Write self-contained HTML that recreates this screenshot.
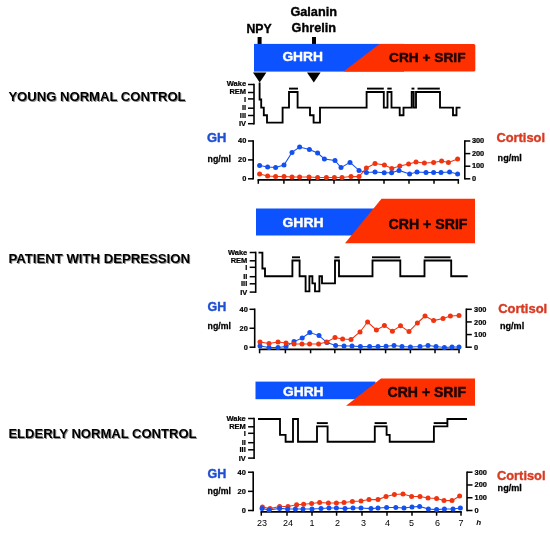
<!DOCTYPE html>
<html lang="en">
<head>
<meta charset="utf-8">
<title>GHRH / CRH sleep-endocrine profiles</title>
<style>
html,body{margin:0;padding:0;background:#fff;}
body{width:550px;height:534px;overflow:hidden;}
svg{display:block;font-family:'Liberation Sans', Arial, Helvetica, sans-serif;}
</style>
</head>
<body>
<svg width="550" height="534" viewBox="0 0 550 534" font-family="'Liberation Sans', Arial, Helvetica, sans-serif">
<defs>
<filter id="sh" x="-5%" y="-50%" width="110%" height="200%">
<feGaussianBlur in="SourceAlpha" stdDeviation="0.7" result="b"/>
<feOffset in="b" dx="0.6" dy="0.8" result="o"/>
<feComponentTransfer in="o" result="s"><feFuncA type="linear" slope="0.45"/></feComponentTransfer>
<feMerge><feMergeNode in="s"/><feMergeNode in="SourceGraphic"/></feMerge>
</filter>
</defs>
<rect width="550" height="534" fill="#fff"/>
<g filter="url(#sh)">
<text x="8.4" y="101" font-size="12.7" font-weight="bold" fill="#000" text-anchor="start" textLength="177.2" lengthAdjust="spacingAndGlyphs">YOUNG NORMAL CONTROL</text>
<text x="8.4" y="263.2" font-size="12.7" font-weight="bold" fill="#000" text-anchor="start" textLength="181.6" lengthAdjust="spacingAndGlyphs">PATIENT WITH DEPRESSION</text>
<text x="8.4" y="437.7" font-size="12.7" font-weight="bold" fill="#000" text-anchor="start" textLength="188.1" lengthAdjust="spacingAndGlyphs">ELDERLY NORMAL CONTROL</text>
</g>
<text x="259" y="33" font-size="12" font-weight="bold" fill="#000" text-anchor="middle" textLength="25.2" lengthAdjust="spacingAndGlyphs" stroke="#000" stroke-width="0.36" stroke-linejoin="round">NPY</text>
<text x="313.7" y="16.4" font-size="12" font-weight="bold" fill="#000" text-anchor="middle" textLength="46.6" lengthAdjust="spacingAndGlyphs" stroke="#000" stroke-width="0.36" stroke-linejoin="round">Galanin</text>
<text x="313.8" y="32.2" font-size="12" font-weight="bold" fill="#000" text-anchor="middle" textLength="44.4" lengthAdjust="spacingAndGlyphs" stroke="#000" stroke-width="0.36" stroke-linejoin="round">Ghrelin</text>
<rect x="257.6" y="37" width="4" height="8" fill="#000"/>
<rect x="312" y="37" width="4" height="8" fill="#000"/>
<rect x="254" y="43.9" width="150" height="27.7" fill="#0c52ff"/>
<path d="M379.4,43.9H473.7a1.6,1.6 0 0 1 1.6,1.6V70a1.6,1.6 0 0 1 -1.6,1.6H343.6Z" fill="#ff3000"/>
<text x="302.7" y="61.2" font-size="13" font-weight="bold" fill="#fff" text-anchor="middle" textLength="40.6" lengthAdjust="spacingAndGlyphs" stroke="#fff" stroke-width="0.39" stroke-linejoin="round">GHRH</text>
<text x="427.3" y="62.3" font-size="13" font-weight="bold" fill="#1a0000" text-anchor="middle" textLength="76.5" lengthAdjust="spacingAndGlyphs" stroke="#1a0000" stroke-width="0.39" stroke-linejoin="round">CRH + SRIF</text>
<path d="M253,72.5H266.4L259.7,82.4Z" fill="#000"/>
<path d="M307,72.5H320.6L313.8,82.4Z" fill="#000"/>
<path d="M254.0,83.7V124.5" stroke="#000" stroke-width="1.6" fill="none"/>
<path d="M248.0,84.50H254.0" stroke="#000" stroke-width="1.5" fill="none"/>
<text x="246.1" y="86.3" font-size="7.5" font-weight="bold" fill="#000" text-anchor="end" stroke="#000" stroke-width="0.22" stroke-linejoin="round">Wake</text>
<path d="M248.0,92.50H254.0" stroke="#000" stroke-width="1.5" fill="none"/>
<text x="246.1" y="94.4" font-size="7.5" font-weight="bold" fill="#000" text-anchor="end" stroke="#000" stroke-width="0.22" stroke-linejoin="round">REM</text>
<path d="M248.0,98.90H254.0" stroke="#000" stroke-width="1.5" fill="none"/>
<text x="246.1" y="101.9" font-size="7.5" font-weight="bold" fill="#000" text-anchor="end" stroke="#000" stroke-width="0.22" stroke-linejoin="round">I</text>
<path d="M248.0,108.20H254.0" stroke="#000" stroke-width="1.5" fill="none"/>
<text x="246.1" y="110.1" font-size="7.5" font-weight="bold" fill="#000" text-anchor="end" stroke="#000" stroke-width="0.22" stroke-linejoin="round">II</text>
<path d="M248.0,115.50H254.0" stroke="#000" stroke-width="1.5" fill="none"/>
<text x="246.1" y="117.9" font-size="7.5" font-weight="bold" fill="#000" text-anchor="end" stroke="#000" stroke-width="0.22" stroke-linejoin="round">III</text>
<path d="M248.0,123.70H254.0" stroke="#000" stroke-width="1.5" fill="none"/>
<text x="246.1" y="126.2" font-size="7.5" font-weight="bold" fill="#000" text-anchor="end" stroke="#000" stroke-width="0.22" stroke-linejoin="round">IV</text>
<path d="M259.6,82.5L259.6,82.5L259.6,99.5L261.2,99.5L261.2,107.6L263.8,107.6L263.8,115.2L267,115.2L267,122.6L282.6,122.6L282.6,107.6L289,107.6L289,92L297.6,92L297.6,107.6L310,107.6L310,115.2L313.6,115.2L313.6,122.6L320,122.6L320,107.6L366.6,107.6L366.6,92L383.8,92L383.8,107.6L387.5,107.6L387.5,92L391.5,92L391.5,107.6L399.7,107.6L399.7,115.2L403.5,115.2L403.5,107.6L411.7,107.6L411.7,92L413.7,92L413.7,107.6L416,107.6L416,92L440,92L440,107.6L453,107.6L453,115.2L456.5,115.2L456.5,107.6L460.5,107.6" fill="none" stroke="#000" stroke-width="1.85" stroke-linejoin="miter" stroke-linecap="butt"/>
<path d="M289,88.6H298" stroke="#000" stroke-width="1.9" fill="none"/>
<path d="M367,88.6H383.8" stroke="#000" stroke-width="1.9" fill="none"/>
<path d="M387.3,88.6H391.7" stroke="#000" stroke-width="1.9" fill="none"/>
<path d="M411.5,88.6H414.4" stroke="#000" stroke-width="1.9" fill="none"/>
<path d="M417.5,88.6H439.8" stroke="#000" stroke-width="1.9" fill="none"/>
<path d="M253.2,140.2V179.60000000000002" stroke="#000" stroke-width="1.6" fill="none"/>
<path d="M248.0,141.00H253.2" stroke="#000" stroke-width="1.5" fill="none"/>
<text x="246.3" y="143.3" font-size="7.4" font-weight="bold" fill="#000" text-anchor="end" stroke="#000" stroke-width="0.22" stroke-linejoin="round">40</text>
<path d="M248.0,159.90H253.2" stroke="#000" stroke-width="1.5" fill="none"/>
<text x="246.3" y="162.2" font-size="7.4" font-weight="bold" fill="#000" text-anchor="end" stroke="#000" stroke-width="0.22" stroke-linejoin="round">20</text>
<path d="M248.0,178.80H253.2" stroke="#000" stroke-width="1.5" fill="none"/>
<text x="246.3" y="181.1" font-size="7.4" font-weight="bold" fill="#000" text-anchor="end" stroke="#000" stroke-width="0.22" stroke-linejoin="round">0</text>
<path d="M464.8,140.2V179.60000000000002" stroke="#000" stroke-width="1.6" fill="none"/>
<path d="M464.8,141.00H470.3" stroke="#000" stroke-width="1.5" fill="none"/>
<text x="471.9" y="142.9" font-size="7.4" font-weight="bold" fill="#000" text-anchor="start" stroke="#000" stroke-width="0.22" stroke-linejoin="round">300</text>
<path d="M464.8,153.60H470.3" stroke="#000" stroke-width="1.5" fill="none"/>
<text x="471.9" y="155.5" font-size="7.4" font-weight="bold" fill="#000" text-anchor="start" stroke="#000" stroke-width="0.22" stroke-linejoin="round">200</text>
<path d="M464.8,166.20H470.3" stroke="#000" stroke-width="1.5" fill="none"/>
<text x="471.9" y="168.1" font-size="7.4" font-weight="bold" fill="#000" text-anchor="start" stroke="#000" stroke-width="0.22" stroke-linejoin="round">100</text>
<path d="M464.8,178.80H470.3" stroke="#000" stroke-width="1.5" fill="none"/>
<text x="471.9" y="180.7" font-size="7.4" font-weight="bold" fill="#000" text-anchor="start" stroke="#000" stroke-width="0.22" stroke-linejoin="round">0</text>
<path d="M257.5,179.9H459.1" stroke="#000" stroke-width="1.8" fill="none"/>
<path d="M258.3,179.9V183.8" stroke="#000" stroke-width="1.5" fill="none"/>
<path d="M283.9,179.9V183.8" stroke="#000" stroke-width="1.5" fill="none"/>
<path d="M309.6,179.9V183.8" stroke="#000" stroke-width="1.5" fill="none"/>
<path d="M334,179.9V183.8" stroke="#000" stroke-width="1.5" fill="none"/>
<path d="M359,179.9V183.8" stroke="#000" stroke-width="1.5" fill="none"/>
<path d="M384,179.9V183.8" stroke="#000" stroke-width="1.5" fill="none"/>
<path d="M409,179.9V183.8" stroke="#000" stroke-width="1.5" fill="none"/>
<path d="M434,179.9V183.8" stroke="#000" stroke-width="1.5" fill="none"/>
<path d="M458.3,179.9V183.8" stroke="#000" stroke-width="1.5" fill="none"/>
<path d="M259.6,174L267.6,176L275.6,176.4L284,176.4L292,177L299.6,177L309,177L317.6,177.4L326.4,177.4L334.4,177.4L342,177.4L351,176.6L359,176.6L366.4,168L375,163.6L384.4,165L391.8,168.4L399.8,166L408.6,164L416,162L424.4,163L433.6,162.6L441.6,161L448.4,162.4L457.6,159" fill="none" stroke="#f03410" stroke-width="1.05"/>
<circle cx="259.6" cy="174" r="2.5" fill="#f03410"/>
<circle cx="267.6" cy="176" r="2.5" fill="#f03410"/>
<circle cx="275.6" cy="176.4" r="2.5" fill="#f03410"/>
<circle cx="284" cy="176.4" r="2.5" fill="#f03410"/>
<circle cx="292" cy="177" r="2.5" fill="#f03410"/>
<circle cx="299.6" cy="177" r="2.5" fill="#f03410"/>
<circle cx="309" cy="177" r="2.5" fill="#f03410"/>
<circle cx="317.6" cy="177.4" r="2.5" fill="#f03410"/>
<circle cx="326.4" cy="177.4" r="2.5" fill="#f03410"/>
<circle cx="334.4" cy="177.4" r="2.5" fill="#f03410"/>
<circle cx="342" cy="177.4" r="2.5" fill="#f03410"/>
<circle cx="351" cy="176.6" r="2.5" fill="#f03410"/>
<circle cx="359" cy="176.6" r="2.5" fill="#f03410"/>
<circle cx="366.4" cy="168" r="2.5" fill="#f03410"/>
<circle cx="375" cy="163.6" r="2.5" fill="#f03410"/>
<circle cx="384.4" cy="165" r="2.5" fill="#f03410"/>
<circle cx="391.8" cy="168.4" r="2.5" fill="#f03410"/>
<circle cx="399.8" cy="166" r="2.5" fill="#f03410"/>
<circle cx="408.6" cy="164" r="2.5" fill="#f03410"/>
<circle cx="416" cy="162" r="2.5" fill="#f03410"/>
<circle cx="424.4" cy="163" r="2.5" fill="#f03410"/>
<circle cx="433.6" cy="162.6" r="2.5" fill="#f03410"/>
<circle cx="441.6" cy="161" r="2.5" fill="#f03410"/>
<circle cx="448.4" cy="162.4" r="2.5" fill="#f03410"/>
<circle cx="457.6" cy="159" r="2.5" fill="#f03410"/>
<path d="M259.6,165.6L267.6,167L275.6,167.4L284,165L292,152.4L299.6,147L309.4,149.6L317.6,153L324.4,159L335,160.4L341,167.6L350,162.4L359,170.4L366.4,172.4L375,172L384.2,172.8L391.6,172.8L399,170.4L409.6,174L417,172L426,172.4L433.6,172.4L441,172.4L449.6,172L457.6,174" fill="none" stroke="#1250f0" stroke-width="1.05"/>
<circle cx="259.6" cy="165.6" r="2.5" fill="#1250f0"/>
<circle cx="267.6" cy="167" r="2.5" fill="#1250f0"/>
<circle cx="275.6" cy="167.4" r="2.5" fill="#1250f0"/>
<circle cx="284" cy="165" r="2.5" fill="#1250f0"/>
<circle cx="292" cy="152.4" r="2.5" fill="#1250f0"/>
<circle cx="299.6" cy="147" r="2.5" fill="#1250f0"/>
<circle cx="309.4" cy="149.6" r="2.5" fill="#1250f0"/>
<circle cx="317.6" cy="153" r="2.5" fill="#1250f0"/>
<circle cx="324.4" cy="159" r="2.5" fill="#1250f0"/>
<circle cx="335" cy="160.4" r="2.5" fill="#1250f0"/>
<circle cx="341" cy="167.6" r="2.5" fill="#1250f0"/>
<circle cx="350" cy="162.4" r="2.5" fill="#1250f0"/>
<circle cx="359" cy="170.4" r="2.5" fill="#1250f0"/>
<circle cx="366.4" cy="172.4" r="2.5" fill="#1250f0"/>
<circle cx="375" cy="172" r="2.5" fill="#1250f0"/>
<circle cx="384.2" cy="172.8" r="2.5" fill="#1250f0"/>
<circle cx="391.6" cy="172.8" r="2.5" fill="#1250f0"/>
<circle cx="399" cy="170.4" r="2.5" fill="#1250f0"/>
<circle cx="409.6" cy="174" r="2.5" fill="#1250f0"/>
<circle cx="417" cy="172" r="2.5" fill="#1250f0"/>
<circle cx="426" cy="172.4" r="2.5" fill="#1250f0"/>
<circle cx="433.6" cy="172.4" r="2.5" fill="#1250f0"/>
<circle cx="441" cy="172.4" r="2.5" fill="#1250f0"/>
<circle cx="449.6" cy="172" r="2.5" fill="#1250f0"/>
<circle cx="457.6" cy="174" r="2.5" fill="#1250f0"/>
<text x="207" y="142.4" font-size="13" font-weight="bold" fill="#1f4fd0" text-anchor="start" textLength="19.4" lengthAdjust="spacingAndGlyphs" stroke="#1f4fd0" stroke-width="0.39" stroke-linejoin="round">GH</text>
<text x="207.6" y="162.4" font-size="9" font-weight="bold" fill="#000" text-anchor="start" textLength="23.4" lengthAdjust="spacingAndGlyphs" stroke="#000" stroke-width="0.27" stroke-linejoin="round">ng/ml</text>
<text x="496.4" y="142" font-size="13" font-weight="bold" fill="#d83a22" text-anchor="start" textLength="48.6" lengthAdjust="spacingAndGlyphs" stroke="#d83a22" stroke-width="0.39" stroke-linejoin="round">Cortisol</text>
<text x="497.6" y="160.5" font-size="9" font-weight="bold" fill="#000" text-anchor="start" textLength="24.2" lengthAdjust="spacingAndGlyphs" stroke="#000" stroke-width="0.27" stroke-linejoin="round">ng/ml</text>
<rect x="256" y="208.5" width="120" height="27" fill="#0c52ff"/>
<path d="M381.5,198.7H475V243.2H345Z" fill="#ff3000"/>
<text x="303" y="227.3" font-size="13.5" font-weight="bold" fill="#fff" text-anchor="middle" textLength="41" lengthAdjust="spacingAndGlyphs" stroke="#fff" stroke-width="0.40" stroke-linejoin="round">GHRH</text>
<text x="428" y="228.7" font-size="14" font-weight="bold" fill="#1a0000" text-anchor="middle" textLength="79" lengthAdjust="spacingAndGlyphs" stroke="#1a0000" stroke-width="0.42" stroke-linejoin="round">CRH + SRIF</text>
<path d="M255.7,251.7V292.90000000000003" stroke="#000" stroke-width="1.6" fill="none"/>
<path d="M249.7,252.50H255.7" stroke="#000" stroke-width="1.5" fill="none"/>
<text x="247.3" y="254.8" font-size="7.5" font-weight="bold" fill="#000" text-anchor="end" stroke="#000" stroke-width="0.22" stroke-linejoin="round">Wake</text>
<path d="M249.7,260.80H255.7" stroke="#000" stroke-width="1.5" fill="none"/>
<text x="247.3" y="263.3" font-size="7.5" font-weight="bold" fill="#000" text-anchor="end" stroke="#000" stroke-width="0.22" stroke-linejoin="round">REM</text>
<path d="M249.7,267.30H255.7" stroke="#000" stroke-width="1.5" fill="none"/>
<text x="247.3" y="269.7" font-size="7.5" font-weight="bold" fill="#000" text-anchor="end" stroke="#000" stroke-width="0.22" stroke-linejoin="round">I</text>
<path d="M249.7,276.70H255.7" stroke="#000" stroke-width="1.5" fill="none"/>
<text x="247.3" y="278.7" font-size="7.5" font-weight="bold" fill="#000" text-anchor="end" stroke="#000" stroke-width="0.22" stroke-linejoin="round">II</text>
<path d="M249.7,283.80H255.7" stroke="#000" stroke-width="1.5" fill="none"/>
<text x="247.3" y="286.3" font-size="7.5" font-weight="bold" fill="#000" text-anchor="end" stroke="#000" stroke-width="0.22" stroke-linejoin="round">III</text>
<path d="M249.7,292.10H255.7" stroke="#000" stroke-width="1.5" fill="none"/>
<text x="247.3" y="294.9" font-size="7.5" font-weight="bold" fill="#000" text-anchor="end" stroke="#000" stroke-width="0.22" stroke-linejoin="round">IV</text>
<path d="M258.5,252.6L262.4,252.6L262.4,268.5L265,268.5L265,276.2L292.4,276.2L292.4,260.5L299.6,260.5L299.6,276.2L305.6,276.2L305.6,291.4L309.4,291.4L309.4,276.2L312.4,276.2L312.4,283.3L315,283.3L315,291.4L319.4,291.4L319.4,276.2L322,276.2L322,283.3L335,283.3L335,260.5L339,260.5L339,276.2L372.5,276.2L372.5,260.5L400.3,260.5L400.3,276.2L424.5,276.2L424.5,260.5L451.2,260.5L451.2,276.2L467.7,276.2" fill="none" stroke="#000" stroke-width="1.85" stroke-linejoin="miter" stroke-linecap="butt"/>
<path d="M292,257.3H300" stroke="#000" stroke-width="1.9" fill="none"/>
<path d="M334.4,257.3H339.6" stroke="#000" stroke-width="1.9" fill="none"/>
<path d="M372,257.3H400.2" stroke="#000" stroke-width="1.9" fill="none"/>
<path d="M424.3,257.3H450.6" stroke="#000" stroke-width="1.9" fill="none"/>
<path d="M254.7,308.5V348.0" stroke="#000" stroke-width="1.6" fill="none"/>
<path d="M249.5,309.30H254.7" stroke="#000" stroke-width="1.5" fill="none"/>
<text x="247.8" y="311.8" font-size="7.4" font-weight="bold" fill="#000" text-anchor="end" stroke="#000" stroke-width="0.22" stroke-linejoin="round">40</text>
<path d="M249.5,328.25H254.7" stroke="#000" stroke-width="1.5" fill="none"/>
<text x="247.8" y="330.75" font-size="7.4" font-weight="bold" fill="#000" text-anchor="end" stroke="#000" stroke-width="0.22" stroke-linejoin="round">20</text>
<path d="M249.5,347.20H254.7" stroke="#000" stroke-width="1.5" fill="none"/>
<text x="247.8" y="349.7" font-size="7.4" font-weight="bold" fill="#000" text-anchor="end" stroke="#000" stroke-width="0.22" stroke-linejoin="round">0</text>
<path d="M466.3,308.5V348.0" stroke="#000" stroke-width="1.6" fill="none"/>
<path d="M466.3,309.30H471.8" stroke="#000" stroke-width="1.5" fill="none"/>
<text x="474.1" y="311.9" font-size="7.4" font-weight="bold" fill="#000" text-anchor="start" stroke="#000" stroke-width="0.22" stroke-linejoin="round">300</text>
<path d="M466.3,321.93H471.8" stroke="#000" stroke-width="1.5" fill="none"/>
<text x="474.1" y="324.53" font-size="7.4" font-weight="bold" fill="#000" text-anchor="start" stroke="#000" stroke-width="0.22" stroke-linejoin="round">200</text>
<path d="M466.3,334.57H471.8" stroke="#000" stroke-width="1.5" fill="none"/>
<text x="474.1" y="337.17" font-size="7.4" font-weight="bold" fill="#000" text-anchor="start" stroke="#000" stroke-width="0.22" stroke-linejoin="round">100</text>
<path d="M466.3,347.20H471.8" stroke="#000" stroke-width="1.5" fill="none"/>
<text x="474.1" y="349.8" font-size="7.4" font-weight="bold" fill="#000" text-anchor="start" stroke="#000" stroke-width="0.22" stroke-linejoin="round">0</text>
<path d="M258.8,349.4H459.8" stroke="#000" stroke-width="1.8" fill="none"/>
<path d="M259.6,349.4V353.29999999999995" stroke="#000" stroke-width="1.5" fill="none"/>
<path d="M285.4,349.4V353.29999999999995" stroke="#000" stroke-width="1.5" fill="none"/>
<path d="M310.6,349.4V353.29999999999995" stroke="#000" stroke-width="1.5" fill="none"/>
<path d="M334.8,349.4V353.29999999999995" stroke="#000" stroke-width="1.5" fill="none"/>
<path d="M360.4,349.4V353.29999999999995" stroke="#000" stroke-width="1.5" fill="none"/>
<path d="M385.6,349.4V353.29999999999995" stroke="#000" stroke-width="1.5" fill="none"/>
<path d="M410.4,349.4V353.29999999999995" stroke="#000" stroke-width="1.5" fill="none"/>
<path d="M435,349.4V353.29999999999995" stroke="#000" stroke-width="1.5" fill="none"/>
<path d="M459,349.4V353.29999999999995" stroke="#000" stroke-width="1.5" fill="none"/>
<path d="M260,346L269,347.4L278,347.4L286,346.6L294,341.6L302.2,338L309.8,332.6L319,335.6L327,342.6L335.6,345.4L344,346L352,346L360.4,346.6L369.6,346.6L378,346.6L386,346.3L394,345.6L402,346.6L410.4,347L420,346.6L428,345.6L436,346.6L444.4,347.4L452,347L459,347" fill="none" stroke="#1250f0" stroke-width="1.05"/>
<circle cx="260" cy="346" r="2.5" fill="#1250f0"/>
<circle cx="269" cy="347.4" r="2.5" fill="#1250f0"/>
<circle cx="278" cy="347.4" r="2.5" fill="#1250f0"/>
<circle cx="286" cy="346.6" r="2.5" fill="#1250f0"/>
<circle cx="294" cy="341.6" r="2.5" fill="#1250f0"/>
<circle cx="302.2" cy="338" r="2.5" fill="#1250f0"/>
<circle cx="309.8" cy="332.6" r="2.5" fill="#1250f0"/>
<circle cx="319" cy="335.6" r="2.5" fill="#1250f0"/>
<circle cx="327" cy="342.6" r="2.5" fill="#1250f0"/>
<circle cx="335.6" cy="345.4" r="2.5" fill="#1250f0"/>
<circle cx="344" cy="346" r="2.5" fill="#1250f0"/>
<circle cx="352" cy="346" r="2.5" fill="#1250f0"/>
<circle cx="360.4" cy="346.6" r="2.5" fill="#1250f0"/>
<circle cx="369.6" cy="346.6" r="2.5" fill="#1250f0"/>
<circle cx="378" cy="346.6" r="2.5" fill="#1250f0"/>
<circle cx="386" cy="346.3" r="2.5" fill="#1250f0"/>
<circle cx="394" cy="345.6" r="2.5" fill="#1250f0"/>
<circle cx="402" cy="346.6" r="2.5" fill="#1250f0"/>
<circle cx="410.4" cy="347" r="2.5" fill="#1250f0"/>
<circle cx="420" cy="346.6" r="2.5" fill="#1250f0"/>
<circle cx="428" cy="345.6" r="2.5" fill="#1250f0"/>
<circle cx="436" cy="346.6" r="2.5" fill="#1250f0"/>
<circle cx="444.4" cy="347.4" r="2.5" fill="#1250f0"/>
<circle cx="452" cy="347" r="2.5" fill="#1250f0"/>
<circle cx="459" cy="347" r="2.5" fill="#1250f0"/>
<path d="M260,342L269,343.4L278,342L286,343L294,344L302,344L309.6,344L318.6,344L326.6,342L335,337.6L342.6,339L351,339.4L360,332L367.6,322L376.4,330L384.4,325.6L392.4,331.2L400.5,325.8L409,331.6L417.4,323L425,316L433.6,320.6L443,318.6L450.4,316L459,315.4" fill="none" stroke="#f03410" stroke-width="1.05"/>
<circle cx="260" cy="342" r="2.5" fill="#f03410"/>
<circle cx="269" cy="343.4" r="2.5" fill="#f03410"/>
<circle cx="278" cy="342" r="2.5" fill="#f03410"/>
<circle cx="286" cy="343" r="2.5" fill="#f03410"/>
<circle cx="294" cy="344" r="2.5" fill="#f03410"/>
<circle cx="302" cy="344" r="2.5" fill="#f03410"/>
<circle cx="309.6" cy="344" r="2.5" fill="#f03410"/>
<circle cx="318.6" cy="344" r="2.5" fill="#f03410"/>
<circle cx="326.6" cy="342" r="2.5" fill="#f03410"/>
<circle cx="335" cy="337.6" r="2.5" fill="#f03410"/>
<circle cx="342.6" cy="339" r="2.5" fill="#f03410"/>
<circle cx="351" cy="339.4" r="2.5" fill="#f03410"/>
<circle cx="360" cy="332" r="2.5" fill="#f03410"/>
<circle cx="367.6" cy="322" r="2.5" fill="#f03410"/>
<circle cx="376.4" cy="330" r="2.5" fill="#f03410"/>
<circle cx="384.4" cy="325.6" r="2.5" fill="#f03410"/>
<circle cx="392.4" cy="331.2" r="2.5" fill="#f03410"/>
<circle cx="400.5" cy="325.8" r="2.5" fill="#f03410"/>
<circle cx="409" cy="331.6" r="2.5" fill="#f03410"/>
<circle cx="417.4" cy="323" r="2.5" fill="#f03410"/>
<circle cx="425" cy="316" r="2.5" fill="#f03410"/>
<circle cx="433.6" cy="320.6" r="2.5" fill="#f03410"/>
<circle cx="443" cy="318.6" r="2.5" fill="#f03410"/>
<circle cx="450.4" cy="316" r="2.5" fill="#f03410"/>
<circle cx="459" cy="315.4" r="2.5" fill="#f03410"/>
<text x="207.6" y="311.4" font-size="13" font-weight="bold" fill="#1f4fd0" text-anchor="start" textLength="18.8" lengthAdjust="spacingAndGlyphs" stroke="#1f4fd0" stroke-width="0.39" stroke-linejoin="round">GH</text>
<text x="207.6" y="329" font-size="9" font-weight="bold" fill="#000" text-anchor="start" textLength="23.4" lengthAdjust="spacingAndGlyphs" stroke="#000" stroke-width="0.27" stroke-linejoin="round">ng/ml</text>
<text x="498.2" y="313.4" font-size="13" font-weight="bold" fill="#d83a22" text-anchor="start" textLength="49" lengthAdjust="spacingAndGlyphs" stroke="#d83a22" stroke-width="0.39" stroke-linejoin="round">Cortisol</text>
<text x="500" y="329.2" font-size="9" font-weight="bold" fill="#000" text-anchor="start" textLength="24.2" lengthAdjust="spacingAndGlyphs" stroke="#000" stroke-width="0.27" stroke-linejoin="round">ng/ml</text>
<rect x="255.5" y="381.6" width="120" height="17.6" fill="#0c52ff"/>
<path d="M381,378.5H475V405.8H346Z" fill="#ff3000"/>
<text x="303.3" y="395.9" font-size="13.5" font-weight="bold" fill="#fff" text-anchor="middle" textLength="40.4" lengthAdjust="spacingAndGlyphs" stroke="#fff" stroke-width="0.40" stroke-linejoin="round">GHRH</text>
<text x="426.8" y="396.8" font-size="14" font-weight="bold" fill="#1a0000" text-anchor="middle" textLength="78.4" lengthAdjust="spacingAndGlyphs" stroke="#1a0000" stroke-width="0.42" stroke-linejoin="round">CRH + SRIF</text>
<path d="M254.1,417.7V458.90000000000003" stroke="#000" stroke-width="1.6" fill="none"/>
<path d="M248.1,418.50H254.1" stroke="#000" stroke-width="1.5" fill="none"/>
<text x="245.8" y="420.8" font-size="7.5" font-weight="bold" fill="#000" text-anchor="end" stroke="#000" stroke-width="0.22" stroke-linejoin="round">Wake</text>
<path d="M248.1,426.80H254.1" stroke="#000" stroke-width="1.5" fill="none"/>
<text x="245.8" y="429.3" font-size="7.5" font-weight="bold" fill="#000" text-anchor="end" stroke="#000" stroke-width="0.22" stroke-linejoin="round">REM</text>
<path d="M248.1,433.30H254.1" stroke="#000" stroke-width="1.5" fill="none"/>
<text x="245.8" y="435.7" font-size="7.5" font-weight="bold" fill="#000" text-anchor="end" stroke="#000" stroke-width="0.22" stroke-linejoin="round">I</text>
<path d="M248.1,442.70H254.1" stroke="#000" stroke-width="1.5" fill="none"/>
<text x="245.8" y="444.7" font-size="7.5" font-weight="bold" fill="#000" text-anchor="end" stroke="#000" stroke-width="0.22" stroke-linejoin="round">II</text>
<path d="M248.1,449.80H254.1" stroke="#000" stroke-width="1.5" fill="none"/>
<text x="245.8" y="452.3" font-size="7.5" font-weight="bold" fill="#000" text-anchor="end" stroke="#000" stroke-width="0.22" stroke-linejoin="round">III</text>
<path d="M248.1,458.10H254.1" stroke="#000" stroke-width="1.5" fill="none"/>
<text x="245.8" y="460.9" font-size="7.5" font-weight="bold" fill="#000" text-anchor="end" stroke="#000" stroke-width="0.22" stroke-linejoin="round">IV</text>
<path d="M258,419L280,419L280,434.9L285.6,434.9L285.6,441.7L293,441.7L293,419L298,419L298,441.7L317,441.7L317,426.3L327.6,426.3L327.6,441.7L374.8,441.7L374.8,426.3L386.6,426.3L386.6,434.9L389.7,434.9L389.7,441.7L433.9,441.7L433.9,426.3L447.4,426.3L447.4,419L467,419" fill="none" stroke="#000" stroke-width="1.85" stroke-linejoin="miter" stroke-linecap="butt"/>
<path d="M316.8,423.1H327.8" stroke="#000" stroke-width="1.9" fill="none"/>
<path d="M374.6,423.1H386.8" stroke="#000" stroke-width="1.9" fill="none"/>
<path d="M433.7,423.1H447.4" stroke="#000" stroke-width="1.9" fill="none"/>
<path d="M253.2,471.4V511.3" stroke="#000" stroke-width="1.6" fill="none"/>
<path d="M248.0,472.20H253.2" stroke="#000" stroke-width="1.5" fill="none"/>
<text x="245.8" y="474.8" font-size="7.4" font-weight="bold" fill="#000" text-anchor="end" stroke="#000" stroke-width="0.22" stroke-linejoin="round">40</text>
<path d="M248.0,491.35H253.2" stroke="#000" stroke-width="1.5" fill="none"/>
<text x="245.8" y="493.95" font-size="7.4" font-weight="bold" fill="#000" text-anchor="end" stroke="#000" stroke-width="0.22" stroke-linejoin="round">20</text>
<path d="M248.0,510.50H253.2" stroke="#000" stroke-width="1.5" fill="none"/>
<text x="245.8" y="513.1" font-size="7.4" font-weight="bold" fill="#000" text-anchor="end" stroke="#000" stroke-width="0.22" stroke-linejoin="round">0</text>
<path d="M467.0,471.4V511.3" stroke="#000" stroke-width="1.6" fill="none"/>
<path d="M467.0,472.20H472.5" stroke="#000" stroke-width="1.5" fill="none"/>
<text x="474.6" y="474.6" font-size="7.4" font-weight="bold" fill="#000" text-anchor="start" stroke="#000" stroke-width="0.22" stroke-linejoin="round">300</text>
<path d="M467.0,484.97H472.5" stroke="#000" stroke-width="1.5" fill="none"/>
<text x="474.6" y="487.37" font-size="7.4" font-weight="bold" fill="#000" text-anchor="start" stroke="#000" stroke-width="0.22" stroke-linejoin="round">200</text>
<path d="M467.0,497.73H472.5" stroke="#000" stroke-width="1.5" fill="none"/>
<text x="474.6" y="500.13" font-size="7.4" font-weight="bold" fill="#000" text-anchor="start" stroke="#000" stroke-width="0.22" stroke-linejoin="round">100</text>
<path d="M467.0,510.50H472.5" stroke="#000" stroke-width="1.5" fill="none"/>
<text x="474.6" y="512.9" font-size="7.4" font-weight="bold" fill="#000" text-anchor="start" stroke="#000" stroke-width="0.22" stroke-linejoin="round">0</text>
<path d="M260.5,511.8H461.8" stroke="#000" stroke-width="1.8" fill="none"/>
<path d="M261.3,511.8V515.7" stroke="#000" stroke-width="1.5" fill="none"/>
<path d="M287,511.8V515.7" stroke="#000" stroke-width="1.5" fill="none"/>
<path d="M312,511.8V515.7" stroke="#000" stroke-width="1.5" fill="none"/>
<path d="M336.6,511.8V515.7" stroke="#000" stroke-width="1.5" fill="none"/>
<path d="M362,511.8V515.7" stroke="#000" stroke-width="1.5" fill="none"/>
<path d="M387,511.8V515.7" stroke="#000" stroke-width="1.5" fill="none"/>
<path d="M412,511.8V515.7" stroke="#000" stroke-width="1.5" fill="none"/>
<path d="M436.6,511.8V515.7" stroke="#000" stroke-width="1.5" fill="none"/>
<path d="M461,511.8V515.7" stroke="#000" stroke-width="1.5" fill="none"/>
<path d="M262.4,507L270,508.6L279.6,506.4L288,506.4L296.6,504.8L303.6,504.2L311.6,503.6L319.6,502.6L328.4,503L336.4,503L344,502.6L352.4,501.4L361,501L369,499.6L378,499.6L386,496.5L394.4,494.4L403,494L411.6,496.4L420,496.4L428,498L436.6,498.4L444,500.4L452,500.6L459.6,496" fill="none" stroke="#f03410" stroke-width="1.05"/>
<circle cx="262.4" cy="507" r="2.5" fill="#f03410"/>
<circle cx="270" cy="508.6" r="2.5" fill="#f03410"/>
<circle cx="279.6" cy="506.4" r="2.5" fill="#f03410"/>
<circle cx="288" cy="506.4" r="2.5" fill="#f03410"/>
<circle cx="296.6" cy="504.8" r="2.5" fill="#f03410"/>
<circle cx="303.6" cy="504.2" r="2.5" fill="#f03410"/>
<circle cx="311.6" cy="503.6" r="2.5" fill="#f03410"/>
<circle cx="319.6" cy="502.6" r="2.5" fill="#f03410"/>
<circle cx="328.4" cy="503" r="2.5" fill="#f03410"/>
<circle cx="336.4" cy="503" r="2.5" fill="#f03410"/>
<circle cx="344" cy="502.6" r="2.5" fill="#f03410"/>
<circle cx="352.4" cy="501.4" r="2.5" fill="#f03410"/>
<circle cx="361" cy="501" r="2.5" fill="#f03410"/>
<circle cx="369" cy="499.6" r="2.5" fill="#f03410"/>
<circle cx="378" cy="499.6" r="2.5" fill="#f03410"/>
<circle cx="386" cy="496.5" r="2.5" fill="#f03410"/>
<circle cx="394.4" cy="494.4" r="2.5" fill="#f03410"/>
<circle cx="403" cy="494" r="2.5" fill="#f03410"/>
<circle cx="411.6" cy="496.4" r="2.5" fill="#f03410"/>
<circle cx="420" cy="496.4" r="2.5" fill="#f03410"/>
<circle cx="428" cy="498" r="2.5" fill="#f03410"/>
<circle cx="436.6" cy="498.4" r="2.5" fill="#f03410"/>
<circle cx="444" cy="500.4" r="2.5" fill="#f03410"/>
<circle cx="452" cy="500.6" r="2.5" fill="#f03410"/>
<circle cx="459.6" cy="496" r="2.5" fill="#f03410"/>
<path d="M262,508.6L269,510L279.6,508.4L287.6,509L295.4,509L303,509L312,509L321,508.6L329,508L336.4,508L345,508.6L353,508L361,508L371,508.6L378,508L386.6,507.5L395.8,507.6L404,508L412,507L419.6,506.4L428.4,509L436.6,509.6L444.4,509L453,509L460.4,508" fill="none" stroke="#1250f0" stroke-width="1.05"/>
<circle cx="262" cy="508.6" r="2.5" fill="#1250f0"/>
<circle cx="269" cy="510" r="2.5" fill="#1250f0"/>
<circle cx="279.6" cy="508.4" r="2.5" fill="#1250f0"/>
<circle cx="287.6" cy="509" r="2.5" fill="#1250f0"/>
<circle cx="295.4" cy="509" r="2.5" fill="#1250f0"/>
<circle cx="303" cy="509" r="2.5" fill="#1250f0"/>
<circle cx="312" cy="509" r="2.5" fill="#1250f0"/>
<circle cx="321" cy="508.6" r="2.5" fill="#1250f0"/>
<circle cx="329" cy="508" r="2.5" fill="#1250f0"/>
<circle cx="336.4" cy="508" r="2.5" fill="#1250f0"/>
<circle cx="345" cy="508.6" r="2.5" fill="#1250f0"/>
<circle cx="353" cy="508" r="2.5" fill="#1250f0"/>
<circle cx="361" cy="508" r="2.5" fill="#1250f0"/>
<circle cx="371" cy="508.6" r="2.5" fill="#1250f0"/>
<circle cx="378" cy="508" r="2.5" fill="#1250f0"/>
<circle cx="386.6" cy="507.5" r="2.5" fill="#1250f0"/>
<circle cx="395.8" cy="507.6" r="2.5" fill="#1250f0"/>
<circle cx="404" cy="508" r="2.5" fill="#1250f0"/>
<circle cx="412" cy="507" r="2.5" fill="#1250f0"/>
<circle cx="419.6" cy="506.4" r="2.5" fill="#1250f0"/>
<circle cx="428.4" cy="509" r="2.5" fill="#1250f0"/>
<circle cx="436.6" cy="509.6" r="2.5" fill="#1250f0"/>
<circle cx="444.4" cy="509" r="2.5" fill="#1250f0"/>
<circle cx="453" cy="509" r="2.5" fill="#1250f0"/>
<circle cx="460.4" cy="508" r="2.5" fill="#1250f0"/>
<text x="207.6" y="478" font-size="13" font-weight="bold" fill="#1f4fd0" text-anchor="start" textLength="18.8" lengthAdjust="spacingAndGlyphs" stroke="#1f4fd0" stroke-width="0.39" stroke-linejoin="round">GH</text>
<text x="207.6" y="493.6" font-size="9" font-weight="bold" fill="#000" text-anchor="start" textLength="23.4" lengthAdjust="spacingAndGlyphs" stroke="#000" stroke-width="0.27" stroke-linejoin="round">ng/ml</text>
<text x="497" y="479.6" font-size="13" font-weight="bold" fill="#d83a22" text-anchor="start" textLength="48.5" lengthAdjust="spacingAndGlyphs" stroke="#d83a22" stroke-width="0.39" stroke-linejoin="round">Cortisol</text>
<text x="497.6" y="491.3" font-size="9" font-weight="bold" fill="#000" text-anchor="start" textLength="24.2" lengthAdjust="spacingAndGlyphs" stroke="#000" stroke-width="0.27" stroke-linejoin="round">ng/ml</text>
<text x="262" y="525.8" font-size="9" font-weight="normal" fill="#000" text-anchor="middle">23</text>
<text x="288" y="525.8" font-size="9" font-weight="normal" fill="#000" text-anchor="middle">24</text>
<text x="312" y="525.8" font-size="9" font-weight="normal" fill="#000" text-anchor="middle">1</text>
<text x="337.4" y="525.8" font-size="9" font-weight="normal" fill="#000" text-anchor="middle">2</text>
<text x="363.6" y="525.8" font-size="9" font-weight="normal" fill="#000" text-anchor="middle">3</text>
<text x="387.6" y="525.8" font-size="9" font-weight="normal" fill="#000" text-anchor="middle">4</text>
<text x="411.6" y="525.8" font-size="9" font-weight="normal" fill="#000" text-anchor="middle">5</text>
<text x="437.4" y="525.8" font-size="9" font-weight="normal" fill="#000" text-anchor="middle">6</text>
<text x="461" y="525.8" font-size="9" font-weight="normal" fill="#000" text-anchor="middle">7</text>
<text x="476.3" y="525.3" font-size="8" font-weight="bold" fill="#000" text-anchor="start" font-style="italic">h</text>
</svg>
</body>
</html>
